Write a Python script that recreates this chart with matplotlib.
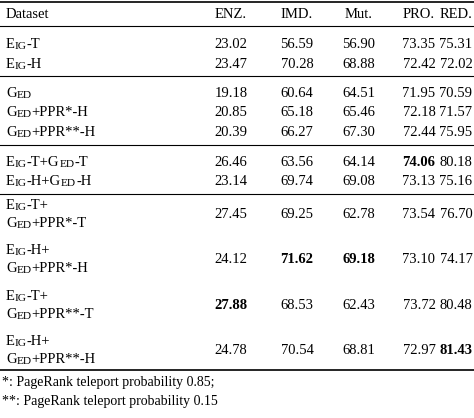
import matplotlib
matplotlib.use("Agg")
import matplotlib.pyplot as plt

columns = ["Dataset", "ENZ.", "IMD.", "Mut.", "PRO.", "RED."]
labels = [["Eig-T"], ["Eig-H"], ["Ged"], ["Ged+PPR*-H"], ["Ged+PPR**-H"],
          ["Eig-T+Ged-T"], ["Eig-H+Ged-H"],
          ["Eig-T+", "Ged+PPR*-T"], ["Eig-H+", "Ged+PPR*-H"],
          ["Eig-T+", "Ged+PPR**-T"], ["Eig-H+", "Ged+PPR**-H"]]
values = [[23.02, 56.59, 56.90, 73.35, 75.31],
          [23.47, 70.28, 68.88, 72.42, 72.02],
          [19.18, 60.64, 64.51, 71.95, 70.59],
          [20.85, 65.18, 65.46, 72.18, 71.57],
          [20.39, 66.27, 67.30, 72.44, 75.95],
          [26.46, 63.56, 64.14, 74.06, 80.18],
          [23.14, 69.74, 69.08, 73.13, 75.16],
          [27.45, 69.25, 62.78, 73.54, 76.70],
          [24.12, 71.62, 69.18, 73.10, 74.17],
          [27.88, 68.53, 62.43, 73.72, 80.48],
          [24.78, 70.54, 68.81, 72.97, 81.43]]
bold = {(5, 3), (8, 1), (8, 2), (9, 0), (10, 4)}
footnotes = ["*: PageRank teleport probability 0.85;",
             "**: PageRank teleport probability 0.15"]

row_y = [44, 64, 93, 112, 132, 162, 181, 214, 259, 305, 350]
col_x = [231, 297, 359, 419, 456]
rules = [(2, 1.2), (26, 0.8), (76, 0.8), (145, 0.8), (194, 0.8), (370, 1.2)]

fig = plt.figure(figsize=(4.74, 4.18), dpi=100)
ax = fig.add_axes([0, 0, 1, 1])
ax.set_xlim(0, 474); ax.set_ylim(418, 0); ax.axis("off")
FONT = "Liberation Serif"
FS = 10.5

def smallcaps(x, y, s):
    runs = []
    for ch in s:
        small = ch.islower()
        if runs and runs[-1][1] == small:
            runs[-1][0] += ch
        else:
            runs.append([ch, small])
    prev = None
    for txt, small in runs:
        fs = FS * 0.78 if small else FS
        t = txt.upper()
        if prev is None:
            prev = ax.text(x, y, t, fontsize=fs, family=FONT, va="baseline", ha="left")
        else:
            prev = ax.annotate(t, xy=(1, 0), xycoords=prev, fontsize=fs, family=FONT,
                               va="bottom", ha="left")

for y, lw in rules:
    ax.plot([0, 474], [y, y], color="black", lw=lw)

ax.text(6, 18, columns[0], fontsize=FS, family=FONT, va="baseline")
for j, c in enumerate(columns[1:]):
    ax.text(col_x[j], 18, c, fontsize=FS, family=FONT, va="baseline", ha="center")

for i, (lab, vals) in enumerate(zip(labels, values)):
    y = row_y[i]
    if len(lab) == 1:
        smallcaps(6, y + 4, lab[0])
    else:
        smallcaps(6, y - 5, lab[0])
        smallcaps(6, y + 13, lab[1])
    for j, v in enumerate(vals):
        ax.text(col_x[j], y + 4, f"{v:.2f}", fontsize=FS, family=FONT, va="baseline",
                ha="center", weight="bold" if (i, j) in bold else "normal")

ax.text(2, 386, footnotes[0], fontsize=FS - 0.5, family=FONT, va="baseline")
ax.text(2, 405, footnotes[1], fontsize=FS - 0.5, family=FONT, va="baseline")
fig.savefig("out.png", dpi=100)
